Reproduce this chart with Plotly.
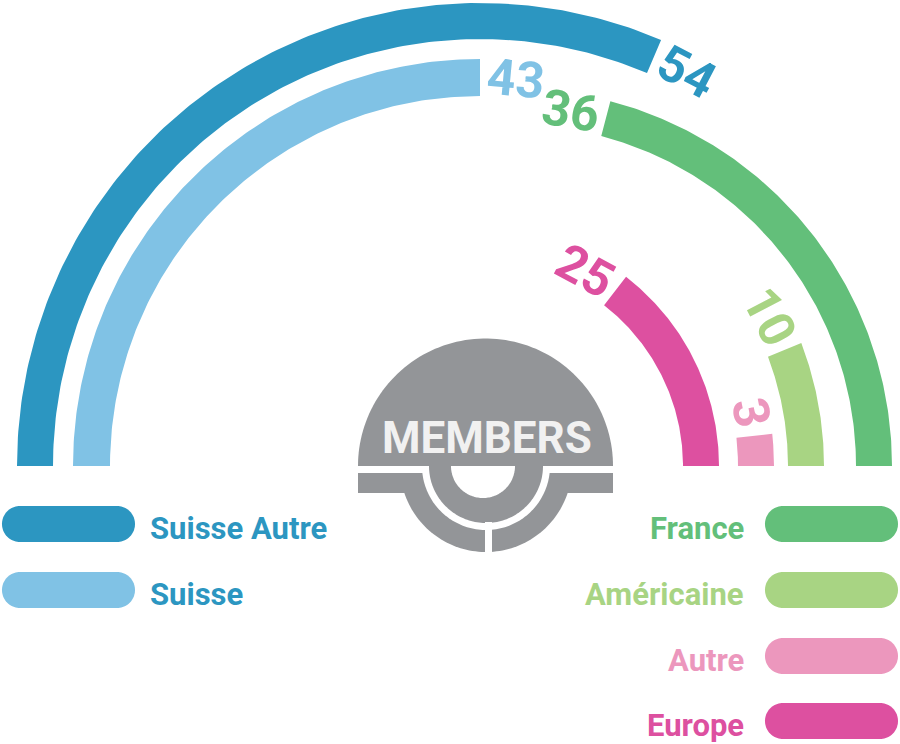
import numpy as np
import plotly.graph_objects as go

# members by nationality
left_labels = ["Suisse Autre", "Suisse"]
left_values = [54, 43]
right_labels = ["France", "Américaine", "Autre", "Europe"]
right_values = [36, 10, 3, 25]

FULL_SCALE = 86  # members shown by a half turn of the gauge

left_colors = ["#2c96c1", "#80c2e5"]
right_colors = ["#63bf7a", "#a8d483", "#ec97bd", "#dd50a0"]
left_text_color = "#2c96c1"
logo_grey = "#939598"

# ring geometry (pixels): centre x, inner radius, outer radius
left_rings = [(480, 427, 463), (480, 370, 407)]
right_rings = [(515, 341, 377), (480, 308, 344), (480, 258, 294), (480, 203, 239)]
CY = 466
W, H = 900, 744
FONT = "Roboto"


def sector_xy(cx, cy, r0, r1, a0, a1, n=160):
    t = np.radians(np.linspace(a0, a1, n))
    x = np.concatenate([cx + r1 * np.cos(t), cx + r0 * np.cos(t[::-1])])
    y = np.concatenate([cy - r1 * np.sin(t), cy - r0 * np.sin(t[::-1])])
    return np.append(x, x[0]), np.append(y, y[0])


def to_path(x, y):
    pts = " L ".join(f"{a:.2f},{b:.2f}" for a, b in zip(x, y))
    return f"M {pts} Z"


def half_disc(cx, cy, r, upper=True):
    a0, a1 = (0, 180) if upper else (180, 360)
    t = np.radians(np.linspace(a0, a1, 90))
    return to_path(cx + r * np.cos(t), cy - r * np.sin(t))


def pill(x0, x1, yc, h=36):
    r = h / 2
    t = np.radians(np.linspace(-90, 90, 40))
    xr = x1 - r + r * np.cos(t)
    yr = yc - r * np.sin(t)
    xl = x0 + r - r * np.cos(t)
    yl = yc + r * np.sin(t)
    return to_path(np.concatenate([xr, xl]), np.concatenate([yr, yl]))


def rect(x0, y0, x1, y1, color):
    return dict(type="rect", x0=x0, y0=y0, x1=x1, y1=y1, xref="x", yref="y",
                fillcolor=color, line=dict(width=0), layer="above")


def path_shape(path, color):
    return dict(type="path", path=path, xref="x", yref="y",
                fillcolor=color, line=dict(width=0), layer="above")


fig = go.Figure()
annotations = []


def add_arc(name, value, color, ring, side):
    cx, r0, r1 = ring
    sweep = value / FULL_SCALE * 180
    if side == "left":
        a0, a1 = 180, 180 - sweep
    else:
        a0, a1 = 0, sweep
    x, y = sector_xy(cx, CY, r0, r1, a0, a1)
    fig.add_trace(go.Scatter(x=x, y=y, mode="lines", fill="toself",
                             fillcolor=color, line=dict(width=0),
                             name=name, hoverinfo="skip", showlegend=False))
    rm = (r0 + r1) / 2
    gap = 10 + 13 * len(str(value))
    off = np.degrees(gap / rm)
    la = a1 - off if side == "left" else a1 + off
    annotations.append(dict(
        x=cx + rm * np.cos(np.radians(la)), y=CY - rm * np.sin(np.radians(la)),
        text=str(value), showarrow=False, textangle=90 - la,
        xanchor="center", yanchor="middle",
        font=dict(family=FONT, size=50, color=color, weight="bold")))


for lab, val, col, ring in zip(left_labels, left_values, left_colors, left_rings):
    add_arc(lab, val, col, ring, "left")
for lab, val, col, ring in zip(right_labels, right_values, right_colors, right_rings):
    add_arc(lab, val, col, ring, "right")

# legend pills and names
row_y = [524, 590, 656, 721]
shapes = []
for i, (lab, col) in enumerate(zip(left_labels, left_colors)):
    shapes.append(path_shape(pill(2, 135, row_y[i]), col))
    annotations.append(dict(x=148, y=row_y[i] + 4, text=lab, showarrow=False,
                            xanchor="left", yanchor="middle",
                            font=dict(family=FONT, size=31, color=left_text_color,
                                      weight="bold")))
for i, (lab, col) in enumerate(zip(right_labels, right_colors)):
    shapes.append(path_shape(pill(765, 898, row_y[i]), col))
    annotations.append(dict(x=746, y=row_y[i] + 4, text=lab, showarrow=False,
                            xanchor="right", yanchor="middle",
                            font=dict(family=FONT, size=31, color=col, weight="bold")))

# MEMBERS logo
lx = 486
shapes += [
    path_shape(half_disc(lx, CY, 86, upper=False), logo_grey),
    rect(358, 473, 613, 493, logo_grey),
    rect(350, 466, 620, 473, "white"),
    path_shape(half_disc(lx, CY, 64, upper=False), "white"),
    path_shape(half_disc(lx, CY, 57, upper=False), logo_grey),
    path_shape(half_disc(483, CY, 32, upper=False), "white"),
    rect(485, 522, 492, 556, "white"),
    path_shape(half_disc(485.5, CY, 127.5, upper=True), logo_grey),
]
annotations.append(dict(x=487, y=438, text="MEMBERS", showarrow=False,
                        xanchor="center", yanchor="middle",
                        font=dict(family=FONT, size=44, color="#f1f1f1",
                                  weight="bold")))

fig.update_layout(
    width=W, height=H,
    margin=dict(l=0, r=0, t=0, b=0),
    paper_bgcolor="white", plot_bgcolor="white",
    xaxis=dict(range=[0, W], visible=False, fixedrange=True),
    yaxis=dict(range=[H, 0], visible=False, fixedrange=True),
    shapes=shapes, annotations=annotations,
    showlegend=False,
)

fig.write_html("out.html", config={"displayModeBar": False},
               post_script="document.body.style.margin = '0';")
